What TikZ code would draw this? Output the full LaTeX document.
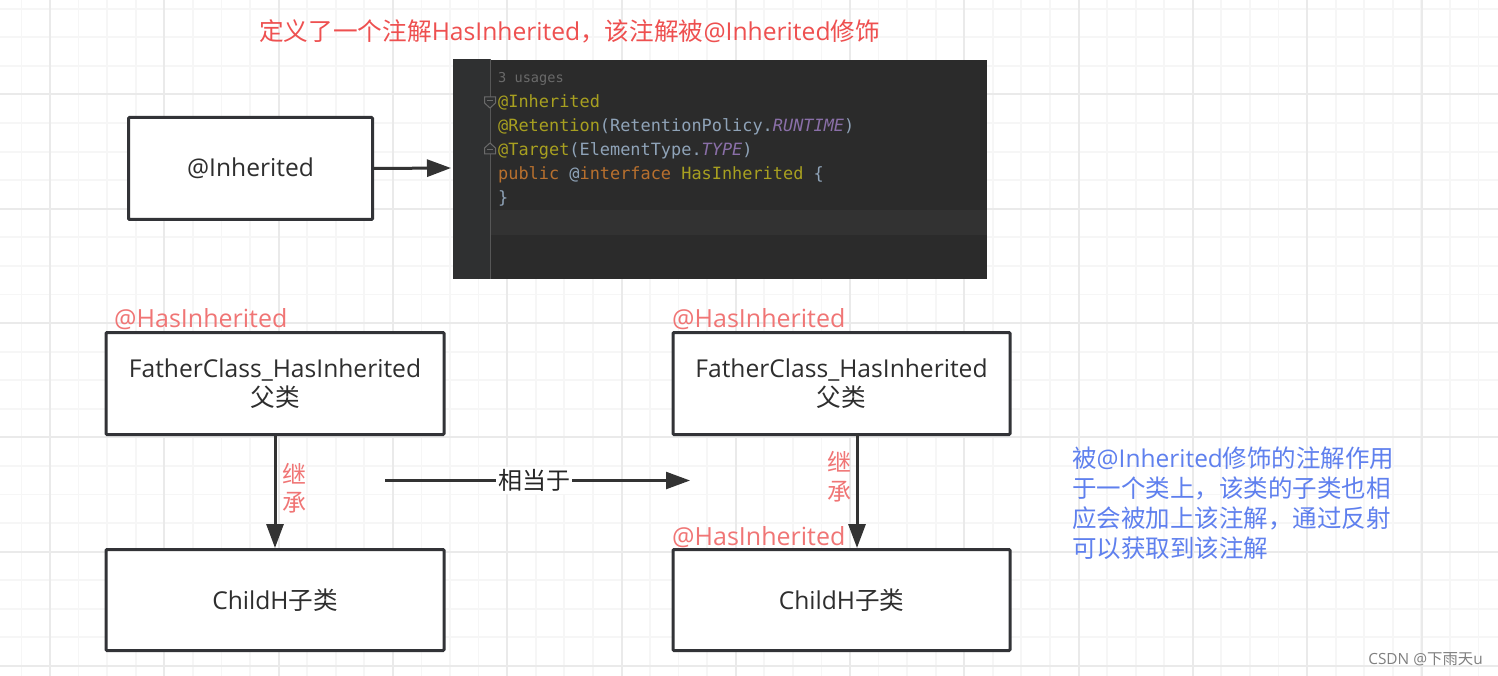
\documentclass[tikz,border=0pt]{standalone}
\usepackage{fontspec}
\setmainfont{Open Sans}
\setmonofont{DejaVu Sans Mono}
\newfontfamily\cjk{Noto Sans CJK SC}
\newcommand{\CJ}[1]{{\cjk #1}}
\usetikzlibrary{arrows.meta}
\definecolor{gridminor}{HTML}{F6F6F6}
\definecolor{gridmajor}{HTML}{EAEAEA}
\definecolor{boxline}{HTML}{323337}
\definecolor{arrowc}{HTML}{333333}
\definecolor{titlered}{HTML}{EE5050}
\definecolor{softred}{HTML}{F07575}
\definecolor{noteblue}{HTML}{5F80EE}
\definecolor{codebg}{HTML}{2B2B2B}
\definecolor{codegut}{HTML}{2F3031}
\definecolor{codecur}{HTML}{323232}
\definecolor{codeann}{HTML}{A8A020}
\definecolor{codetxt}{HTML}{8FA3B8}
\definecolor{codepur}{HTML}{8A6FA8}
\definecolor{codekw}{HTML}{B8702E}
\definecolor{codegrey}{HTML}{6A6A6A}
\tikzset{
  x=1pt,y=-1pt,
  boxnode/.style={draw=boxline,line width=3pt,fill=white,rounded corners=1pt,inner sep=0pt,
    text=black!82,align=center,font=\fontsize{24.6}{30}\selectfont},
  link/.style={draw=arrowc,line width=3pt,-{Triangle[length=24pt,width=17pt]}},
  plainline/.style={draw=arrowc,line width=2.4pt,-{Triangle[length=24pt,width=17pt]}},
  redlabel/.style={text=softred,inner sep=0pt,anchor=west,font=\fontsize{25}{30}\selectfont},
  vlabel/.style={text=softred,inner sep=0pt,font=\fontsize{24}{29}\selectfont\cjk},
  codeline/.style={anchor=base west,inner sep=0pt,font=\ttfamily\fontsize{16.9}{20}\selectfont},
}
\begin{document}
\begin{tikzpicture}
\useasboundingbox (0,0) rectangle (1498,676);
\fill[white] (0,0) rectangle (1498,676);
% grid
\foreach \k in {-1,...,51} {
  \draw[gridminor,line width=1.8pt] ({50+28.57*\k},0) -- ({50+28.57*\k},676);
}
\foreach \k in {-3,...,20} {
  \draw[gridminor,line width=1.8pt] (0,{94.5+28.57*\k}) -- (1498,{94.5+28.57*\k});
}
\foreach \k in {0,...,12} {
  \draw[gridmajor,line width=2pt] ({50+114.3*\k},0) -- ({50+114.3*\k},676);
}
\foreach \k in {0,...,5} {
  \draw[gridmajor,line width=2pt] (0,{94.5+114.3*\k}) -- (1498,{94.5+114.3*\k});
}
% title
\node[text=titlered,inner sep=0pt,anchor=west,font=\fontsize{24.65}{30}\selectfont] (title) at (259,31)
  {\CJ{定义了一个注解}HasInherited\CJ{，该注解被}@Inherited\CJ{修饰}};
% code panel
\node[fill=codebg,minimum width=534pt,minimum height=219pt,inner sep=0pt,anchor=north west] (code) at (453,59.5) {};
\fill[codegut] (453,59.5) rectangle (490,278.5);
\fill[codecur] (491,210) rectangle (987,235);
\draw[codegrey!70!codebg,line width=1.2pt] (490.5,59.5) -- (490.5,278.5);
\draw[codegrey,line width=1pt,fill=codegut] (484.5,97) -- (495.5,97) -- (495.5,103) -- (490,108) -- (484.5,103) -- cycle;
\draw[codegrey,line width=1pt] (487,101) -- (493,101);
\draw[codegrey,line width=1pt,fill=codegut] (484.5,154) -- (495.5,154) -- (495.5,148) -- (490,143) -- (484.5,148) -- cycle;
\draw[codegrey,line width=1pt] (487,150) -- (493,150);
\node[codeline,text=codegrey,font=\ttfamily\fontsize{13.6}{16}\selectfont] (c0) at (498,83) {3 usages};
\node[codeline,text=codeann] (c1) at (498,108) {@Inherited};
\node[codeline,text=codetxt] (c2) at (498,132) {\textcolor{codeann}{@Retention}(RetentionPolicy.\textcolor{codepur}{\itshape RUNTIME})};
\node[codeline,text=codetxt] (c3) at (498,156) {\textcolor{codeann}{@Target}(ElementType.\textcolor{codepur}{\itshape TYPE})};
\node[codeline,text=codetxt] (c4) at (498,180) {\textcolor{codekw}{public} @\textcolor{codekw}{interface} \textcolor{codeann}{HasInherited} \{};
\node[codeline,text=codetxt] (c5) at (498,204) {\}};
% boxes
\node[boxnode,minimum width=244pt,minimum height=102pt] (inh) at (250.5,168.5) {@Inherited};
\node[boxnode,minimum width=338pt,minimum height=102pt] (fa) at (275,383.5) {FatherClass\_HasInherited\\[-0.5pt]\CJ{父类}};
\node[boxnode,minimum width=338pt,minimum height=101pt] (ch) at (275,600) {ChildH\CJ{子类}};
\node[boxnode,minimum width=337pt,minimum height=102pt] (fb) at (841.5,383.5) {FatherClass\_HasInherited\\[-0.5pt]\CJ{父类}};
\node[boxnode,minimum width=337pt,minimum height=101pt] (cb) at (841.5,600) {ChildH\CJ{子类}};
% red labels
\node[redlabel] (ha) at (114,319.5) {@HasInherited};
\node[redlabel] (hb) at (672,319.5) {@HasInherited};
\node[redlabel] (hc) at (672,537.5) {@HasInherited};
% connectors
\coordinate (fbo) at (857,434);
\coordinate (cbi) at (857,548);
\coordinate (eqs) at (385,480.5);
\coordinate (eqe) at (690,480.5);
\coordinate (codein) at (451,168);
\draw[link] (inh.east) -- (codein);
\draw[link] (fa.south) -- (ch.north);
\draw[link] (fbo) -- (cbi);
\draw[plainline] (eqs) -- node[pos=0.49,fill=white,inner sep=2pt,text=black!85,font=\fontsize{24}{29}\selectfont\cjk] (eqt) {相当于} (eqe);
% vertical labels
\node[vlabel] (j1) at (294,474) {继};
\node[vlabel] (j2) at (294,503) {承};
\node[vlabel] (j3) at (839,462) {继};
\node[vlabel] (j4) at (839,492) {承};
% note
\node[text=noteblue,inner sep=0pt,anchor=north west,align=left,font=\fontsize{24.5}{30}\selectfont] (note) at (1072,447)
  {\CJ{被}@Inherited\CJ{修饰的注解作用}\\\CJ{于一个类上，该类的子类也相}\\\CJ{应会被加上该注解，通过反射}\\\CJ{可以获取到该注解}};
% watermark
\node[text=black!50,inner sep=0pt,anchor=east,font=\fontsize{15.4}{17}\selectfont] (wm) at (1483,659) {CSDN @\CJ{下雨天}u};
\end{tikzpicture}
\end{document}
